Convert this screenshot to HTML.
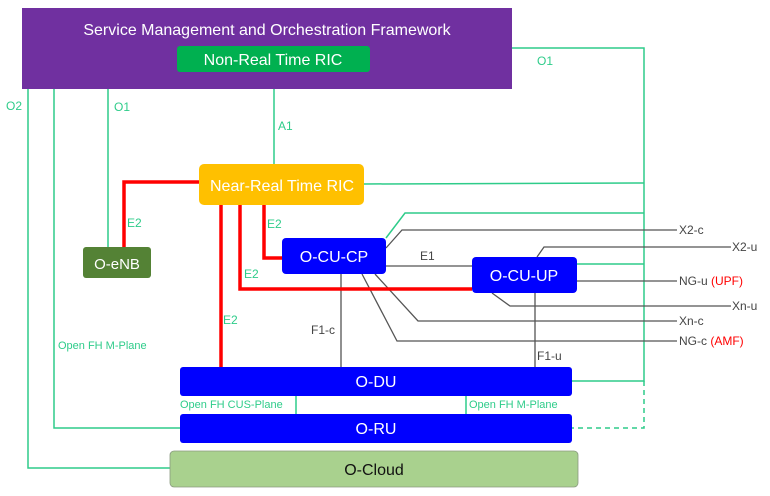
<!DOCTYPE html>
<html><head><meta charset="utf-8"><style>
html,body{margin:0;padding:0;background:#fff;width:770px;height:496px;overflow:hidden}
svg text{font-family:"Liberation Sans",sans-serif}
</style></head><body>
<svg width="770" height="496" viewBox="0 0 770 496" xmlns="http://www.w3.org/2000/svg">
<g fill="none" stroke="#2ecc8a" stroke-width="1.5">
<polyline points="512,48 644,48 644,381 572,381"/>
<polyline points="644,381 644,428 572,428" stroke-dasharray="5,4"/>
<line x1="364" y1="184" x2="644" y2="183"/>
<polyline points="386,238 405,213 644,213"/>
<line x1="577" y1="264" x2="644" y2="264"/>
<polyline points="28,89 28,468 170,468"/>
<polyline points="54,89 54,428 180,428"/>
<line x1="108" y1="89" x2="108" y2="248"/>
<line x1="274" y1="72" x2="274" y2="164"/>
<line x1="296" y1="396" x2="296" y2="415"/>
<line x1="466" y1="396" x2="466" y2="415"/>
</g>
<g fill="none" stroke="#555" stroke-width="1.3">
<line x1="386" y1="266" x2="472" y2="266"/>
<polyline points="386,248 402,230 677,230"/>
<polyline points="537,257 544,247 731,247"/>
<line x1="577" y1="281" x2="677" y2="281"/>
<polyline points="492,293 510,306 731,306"/>
<polyline points="375,274 418,321 677,321"/>
<polyline points="362,274 397,341 677,341"/>
<line x1="341" y1="274" x2="341" y2="367"/>
<line x1="535" y1="293" x2="535" y2="367"/>
</g>
<g fill="none" stroke="#ff0000" stroke-width="3.5">
<polyline points="199,182 124,182 124,248"/>
<line x1="221" y1="204" x2="221" y2="368"/>
<polyline points="240,204 240,289 472,289"/>
<polyline points="264,204 264,258 282,258"/>
</g>
<rect x="22" y="8" width="490" height="81" fill="#7030a0"/>
<text x="267" y="35" fill="#fff" font-size="16" text-anchor="middle">Service Management and Orchestration Framework</text>
<rect x="177" y="46" width="193" height="26" rx="3" fill="#00b050"/>
<text x="273" y="65" fill="#fff" font-size="16" text-anchor="middle">Non-Real Time RIC</text>
<rect x="199" y="164" width="165" height="41" rx="5" fill="#ffc000"/>
<text x="282" y="191" fill="#fff" font-size="16" text-anchor="middle">Near-Real Time RIC</text>
<rect x="83" y="247" width="68" height="31" rx="3" fill="#548235"/>
<text x="117" y="269" fill="#fff" font-size="15" text-anchor="middle">O-eNB</text>
<rect x="282" y="238" width="104" height="36" rx="4" fill="#0000ff"/>
<text x="334" y="262" fill="#fff" font-size="16" text-anchor="middle">O-CU-CP</text>
<rect x="472" y="257" width="105" height="36" rx="4" fill="#0000ff"/>
<text x="524" y="281" fill="#fff" font-size="16" text-anchor="middle">O-CU-UP</text>
<rect x="180" y="367" width="392" height="29" rx="3" fill="#0000ff"/>
<text x="376" y="387" fill="#fff" font-size="16" text-anchor="middle">O-DU</text>
<rect x="180" y="414" width="392" height="29" rx="3" fill="#0000ff"/>
<text x="376" y="434" fill="#fff" font-size="16" text-anchor="middle">O-RU</text>
<rect x="170" y="451" width="408" height="36" rx="4" fill="#a9d18e" stroke="#8a9a80" stroke-width="0.8"/>
<text x="374" y="475" fill="#111" font-size="16" text-anchor="middle">O-Cloud</text>
<g fill="#2ecc8a" font-size="12">
<text x="6" y="110">O2</text>
<text x="114" y="111">O1</text>
<text x="537" y="65">O1</text>
<text x="278" y="130">A1</text>
<text x="127" y="227">E2</text>
<text x="267" y="228">E2</text>
<text x="244" y="278">E2</text>
<text x="223" y="324">E2</text>
<text x="58" y="349" font-size="11">Open FH M-Plane</text>
<text x="180" y="408" font-size="11">Open FH CUS-Plane</text>
<text x="469" y="408" font-size="11">Open FH M-Plane</text>
</g>
<g fill="#444" font-size="12">
<text x="420" y="260">E1</text>
<text x="311" y="334">F1-c</text>
<text x="537" y="360">F1-u</text>
<text x="679" y="234">X2-c</text>
<text x="732" y="251">X2-u</text>
<text x="679" y="285">NG-u <tspan fill="#ff0000">(UPF)</tspan></text>
<text x="732" y="310">Xn-u</text>
<text x="679" y="325">Xn-c</text>
<text x="679" y="345">NG-c <tspan fill="#ff0000">(AMF)</tspan></text>
</g>
</svg>
</body></html>
